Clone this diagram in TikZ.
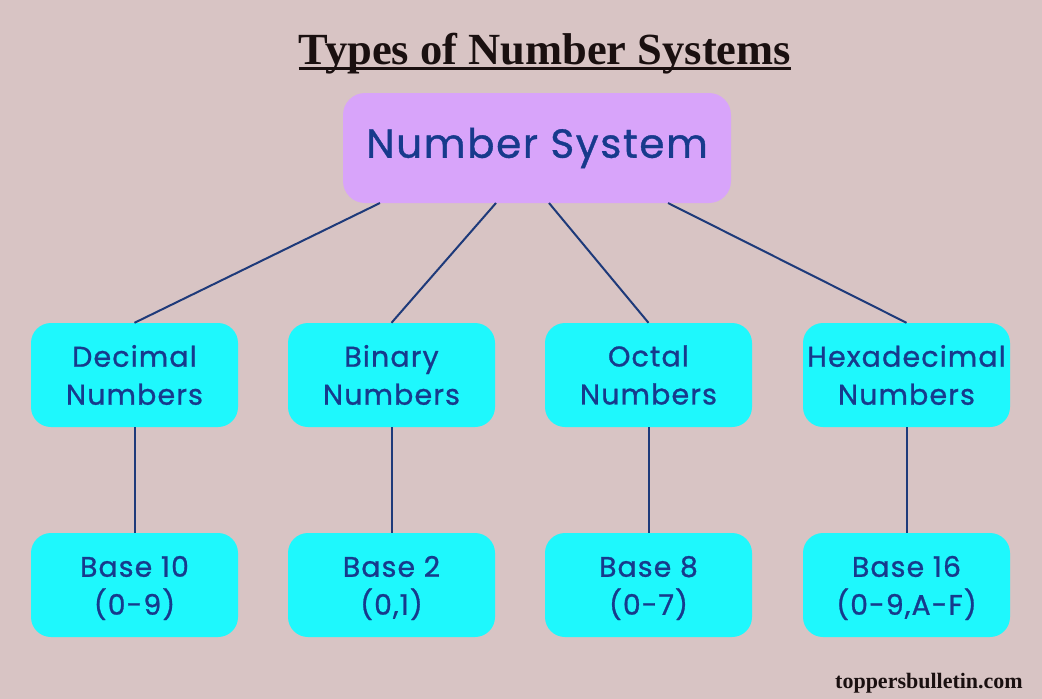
\documentclass[tikz,border=0pt]{standalone}
\usepackage{fontspec}
\setmainfont{Liberation Serif}
\newfontfamily\boxfont{Poppins}[LetterSpace=4,FakeBold=0.9]
\definecolor{bg}{HTML}{D8C4C4}
\definecolor{vio}{HTML}{D8A4FA}
\definecolor{cyn}{HTML}{1EF8FD}
\definecolor{navy}{HTML}{173A8C}
\definecolor{lnc}{HTML}{1E3A7A}
\definecolor{ink}{HTML}{1A1010}
\begin{document}
\begin{tikzpicture}[x=1pt,y=-1pt,
  topbox/.style={draw=none,fill=vio,rounded corners=22pt,minimum width=388pt,minimum height=110pt,inner sep=0pt,font=\boxfont\fontsize{40.5}{44}\selectfont,text=navy},
  kidbox/.style={draw=none,fill=cyn,rounded corners=20pt,minimum width=207pt,minimum height=104pt,inner sep=0pt,align=center,font=\boxfont\fontsize{28.5}{38}\selectfont,text=navy},
  basetxt/.style={inner sep=0pt,align=center,font=\boxfont\fontsize{28.3}{38}\selectfont,text=navy},
  conn/.style={draw=lnc,line width=2pt}]
\fill[bg] (0,0) rectangle (1042,699);
\useasboundingbox (0,0) rectangle (1042,699);
\node[font=\bfseries\fontsize{44.5}{48}\selectfont,text=ink,inner sep=0pt,anchor=base] (title) at (545,64) {Types of Number Systems};
\draw[ink,line width=3pt] ([yshift=-4pt]title.base west) -- ([yshift=-4pt]title.base east);
\node[topbox] (top) at (537,148) {Number System};
\node[kidbox] (dec) at (134.5,375) {Decimal\\Numbers};
\node[kidbox] (bin) at (391.5,375) {Binary\\Numbers};
\node[kidbox] (oct) at (648.5,375) {Octal\\Numbers};
\node[kidbox] (hex) at (906.5,375) {Hexadecimal\\Numbers};
\node[kidbox] (b10) at (134.5,585) {};
\node[kidbox] (b2) at (391.5,585) {};
\node[kidbox] (b8) at (648.5,585) {};
\node[kidbox] (b16) at (906.5,585) {};
\node[basetxt] (b10t) at ([yshift=-3pt]b10.center) {Base 10\\(0-9)};
\node[basetxt] (b2t) at ([yshift=-3pt]b2.center) {Base 2\\(0,1)};
\node[basetxt] (b8t) at ([yshift=-3pt]b8.center) {Base 8\\(0-7)};
\node[basetxt] (b16t) at ([yshift=-3pt]b16.center) {Base 16\\(0-9,A-F)};
\coordinate (t1) at (380,203);
\coordinate (t2) at (496,203);
\coordinate (t3) at (549,203);
\coordinate (t4) at (668,203);
\draw[conn] (t1) -- (dec.north);
\draw[conn] (t2) -- (bin.north);
\draw[conn] (t3) -- (oct.north);
\draw[conn] (t4) -- (hex.north);
\draw[conn] (dec.south) -- (b10.north);
\draw[conn] (bin.south) -- (b2.north);
\draw[conn] (oct.south) -- (b8.north);
\draw[conn] (hex.south) -- (b16.north);
\node[font=\bfseries\fontsize{22}{24}\selectfont,text=ink] (wm) at (929,683) {toppersbulletin.com};
\end{tikzpicture}
\end{document}
